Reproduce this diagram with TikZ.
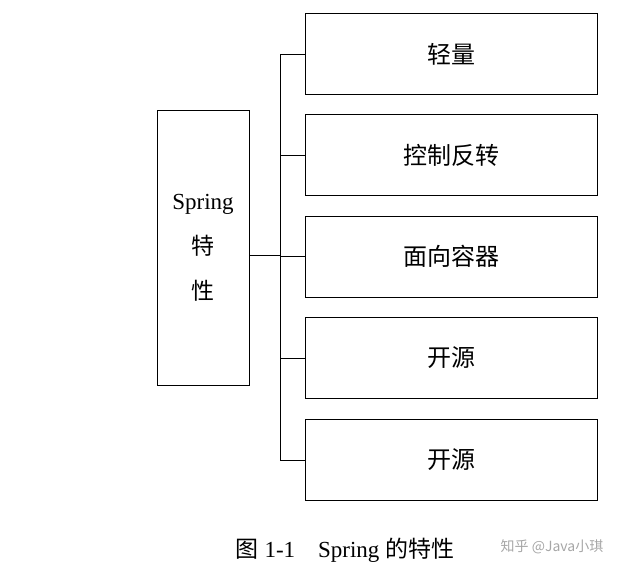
\documentclass[tikz,border=0pt]{standalone}
\usepackage{fontspec}
\setmainfont{Liberation Serif}
\newfontfamily\cjk{Noto Sans CJK SC}
\begin{document}
\begin{tikzpicture}[x=1pt,y=-1pt,
  box/.style={draw,line width=1pt,minimum width=292pt,minimum height=81pt,inner sep=0pt,font=\cjk\fontsize{24}{28}\selectfont},
  conn/.style={line width=0.8pt}]
\useasboundingbox (0,0) rectangle (639,573);
\node[draw,line width=1pt,minimum width=92pt,minimum height=275pt,inner sep=0pt,align=center,font=\fontsize{23}{45}\selectfont] (s) at (203,247.5)
 {Spring\\\cjk 特\\\cjk 性};
\node[box] (b1) at (451,54) {轻量};
\node[box] (b2) at (451,155) {控制反转};
\node[box] (b3) at (451,256.5) {面向容器};
\node[box] (b4) at (451,358) {开源};
\node[box] (b5) at (451,460) {开源};
\coordinate (j) at (280,255);
\draw[conn] (s.east|-j) -- (j);
\draw[conn] (280,54) -- (280,460);
\foreach \b in {b1,b2,b3,b4,b5} \draw[conn] (280,0|-\b.west) -- (\b.west);
\node[font=\fontsize{23}{26}\selectfont] (cap) at (345,550) {{\cjk 图} 1-1\quad Spring {\cjk 的特性}};
\node[text=gray!70,font=\cjk\fontsize{14}{16}\selectfont] (wm) at (552,547) {知乎 @Java小琪};
\end{tikzpicture}
\end{document}
